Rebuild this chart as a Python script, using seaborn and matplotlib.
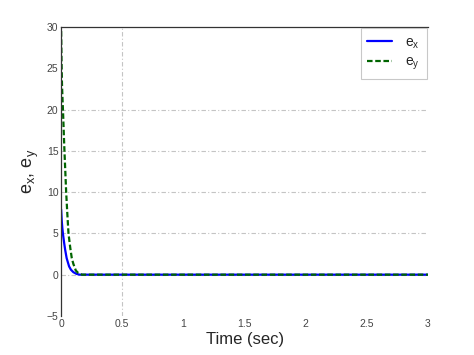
import matplotlib
matplotlib.use('Agg')
import matplotlib.pyplot as plt
import seaborn as sns
import pandas as pd

# values
t_x = [0, 0.005, 0.01, 0.016, 0.025, 0.033, 0.045, 0.065, 0.08, 0.1, 0.125, 0.15, 0.2, 3.0]
e_x = [7.9, 6.5, 5.6, 4.8, 3.8, 3.0, 2.0, 1.0, 0.6, 0.3, 0.1, 0.0, 0.0, 0.0]
t_y = [0, 0.003, 0.007, 0.012, 0.016, 0.022, 0.027, 0.034, 0.041, 0.05, 0.06,
       0.075, 0.087, 0.1, 0.12, 0.14, 0.17, 0.2, 3.0]
e_y = [29.5, 26, 23, 21, 19.5, 17, 15, 12.5, 10, 7.5, 5, 3.2, 2, 1.3, 0.5, 0.2, 0.0, 0.0, 0.0]
xticks = [0, 0.5, 1, 1.5, 2, 2.5, 3]
yticks = [-5, 0, 5, 10, 15, 20, 25, 30]
grid_y = [0, 5, 10, 15, 20]
grid_x = [0.5]

sns.set_style('white')
plt.rcParams['font.family'] = ['Liberation Sans', 'DejaVu Sans']
plt.rcParams['mathtext.fontset'] = 'custom'
plt.rcParams['mathtext.rm'] = 'Liberation Sans'
plt.rcParams['mathtext.it'] = 'Liberation Sans'

df_x = pd.DataFrame({'t': t_x, 'e': e_x})
df_y = pd.DataFrame({'t': t_y, 'e': e_y})

fig = plt.figure(figsize=(4.74, 3.55), dpi=100)
ax = fig.add_axes([0.129, 0.110, 0.774, 0.814])

grid_kw = dict(color='#c4c4c4', lw=0.8, ls=(0, (4, 2, 1, 2)), zorder=0)
for g in grid_y:
    ax.axhline(g, **grid_kw)
for g in grid_x:
    ax.axvline(g, **grid_kw)

sns.lineplot(data=df_x, x='t', y='e', ax=ax, color='#0000ff', lw=1.6,
             label=r'$\mathrm{e_x}$', estimator=None)
sns.lineplot(data=df_y, x='t', y='e', ax=ax, color='#006400', lw=1.6,
             ls=(0, (2.5, 1.2)), label=r'$\mathrm{e_y}$', estimator=None)

ax.set_xlim(0, 3)
ax.set_ylim(-5, 30)
ax.set_xticks(xticks)
ax.set_xticklabels(['0', '0.5', '1', '1.5', '2', '2.5', '3'])
ax.set_yticks(yticks)
ax.tick_params(labelsize=7.5, colors='#444444', length=2, direction='in', pad=2)

for side in ['right', 'bottom']:
    ax.spines[side].set_visible(False)
for side in ['left', 'top']:
    ax.spines[side].set_color('#333333')
    ax.spines[side].set_linewidth(0.9)

ax.set_xlabel('Time (sec)', fontsize=12, labelpad=2)
ax.set_ylabel(r'$\mathrm{e_x}$, $\mathrm{e_y}$', fontsize=13, labelpad=4)

leg = ax.legend(loc='upper right', fontsize=10, frameon=True, fancybox=False,
                borderaxespad=0.1, handlelength=1.8, handletextpad=0.9,
                borderpad=0.5, labelspacing=0.3, edgecolor='#bbbbbb')
leg.get_frame().set_linewidth(0.8)

fig.savefig('out.png', dpi=100)
